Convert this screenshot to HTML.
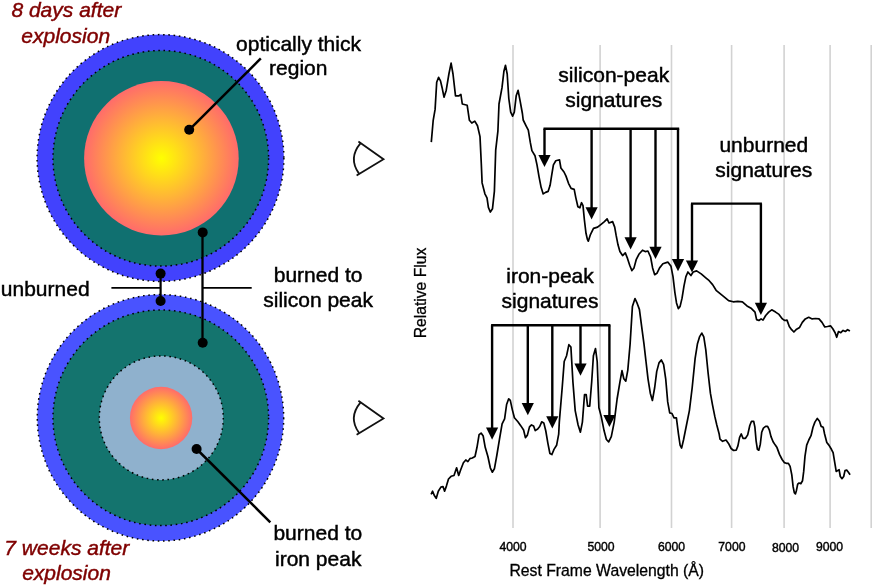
<!DOCTYPE html>
<html><head><meta charset="utf-8"><title>Supernova spectra</title>
<style>
html,body{margin:0;padding:0;background:#fff}
svg{display:block}
text{font-family:"Liberation Sans",sans-serif}
</style></head><body>
<svg width="874" height="588" viewBox="0 0 874 588">
<defs>
<radialGradient id="g"><stop offset="0" stop-color="#ffff00"/><stop offset="0.5" stop-color="#ffb636"/><stop offset="1" stop-color="#ff6b6b"/></radialGradient>
</defs>
<rect width="874" height="588" fill="#fff"/>
<g stroke="#d2d2d2" stroke-width="1.6"><line x1="513.0" y1="45" x2="513.0" y2="528"/><line x1="600.1" y1="45" x2="600.1" y2="528"/><line x1="671.5" y1="45" x2="671.5" y2="528"/><line x1="731.6" y1="45" x2="731.6" y2="528"/><line x1="784.1" y1="45" x2="784.1" y2="528"/><line x1="830.1" y1="45" x2="830.1" y2="528"/><line x1="871.2" y1="45" x2="871.2" y2="528"/></g>

<!-- top star -->
<g stroke="#000" stroke-width="1.5" stroke-dasharray="1.6 3.66">
<circle cx="160.5" cy="158.0" r="123.4" fill="#4242fd"/>
<circle cx="160.8" cy="158.3" r="107.8" fill="#107070"/>
</g>
<circle cx="161.4" cy="158.3" r="77.3" fill="url(#g)"/>
<!-- bottom star -->
<g stroke="#000" stroke-width="1.5" stroke-dasharray="1.6 3.66">
<circle cx="160.5" cy="417.8" r="123.2" fill="#4953ff"/>
<circle cx="160.8" cy="417.8" r="107.8" fill="#14746e"/>
<circle cx="161.3" cy="417.9" r="62" fill="#8fb1cd"/>
</g>
<circle cx="161.1" cy="418" r="31.2" fill="url(#g)"/>

<!-- pointers -->
<g stroke="#000" fill="none">
<line x1="189.2" y1="129.8" x2="260.8" y2="58.4" stroke-width="2.5"/>
<line x1="196.6" y1="449" x2="270.3" y2="522.3" stroke-width="2.5"/>
<line x1="160.6" y1="273.6" x2="160.6" y2="301" stroke-width="2.2"/>
<line x1="202.5" y1="232.4" x2="202.5" y2="342.7" stroke-width="2.3"/>
<line x1="111.4" y1="287.8" x2="160.6" y2="287.8" stroke-width="1.7"/>
<line x1="202.7" y1="287.8" x2="251.7" y2="287.8" stroke-width="1.7"/>
</g>
<g fill="#000">
<circle cx="189.2" cy="129.8" r="5"/><circle cx="196.6" cy="449" r="5"/>
<circle cx="160.6" cy="273.6" r="5"/><circle cx="160.6" cy="301" r="5"/>
<circle cx="202.7" cy="232.4" r="5"/><circle cx="202.7" cy="342.7" r="5"/>
</g>

<!-- eyes -->
<g stroke="#111" stroke-width="1.8" fill="none" stroke-linecap="butt"><g transform="translate(0,0)"><path d="M358.4 141.5 L383.5 159.2 L356.6 175.5"/><path d="M360.4 143.4 Q348 158.3 359 173.6"/></g><g transform="translate(0,259.2)"><path d="M358.4 141.5 L383.5 159.2 L356.6 175.5"/><path d="M360.4 143.4 Q348 158.3 359 173.6"/></g></g>

<!-- spectra -->
<g fill="none" stroke="#000" stroke-width="1.7" stroke-linejoin="round">
<polyline points="431.3,142.1 433.2,120.3 435.1,109.4 436.7,82.2 438.6,77.3 440.5,80.9 442.1,87.7 444.0,97.2 446.2,90.4 448.9,74.0 451.1,63.2 453.0,74.0 455.5,95.8 459.0,95.8 460.9,94.5 462.3,104.0 467.2,105.3 469.4,120.3 471.8,123.0 474.8,121.1 477.5,125.7 480.0,136.6 481.3,163.8 482.1,182.9 484.9,193.8 487.0,197.9 488.4,207.4 490.3,212.0 492.5,208.7 494.4,191.1 495.7,150.2 497.9,131.2 499.0,104.0 502.0,87.7 503.9,71.3 505.5,65.3 507.2,74.0 508.8,98.5 510.7,112.1 512.6,116.2 514.3,112.1 516.2,95.8 518.1,90.4 520.2,101.3 522.4,113.5 523.2,120.0 526.2,126.1 528.3,130.2 530.3,142.4 531.9,150.6 535.0,155.7 537.0,164.9 539.1,177.1 541.1,187.3 543.2,193.9 545.6,192.4 548.1,191.4 550.1,185.3 551.7,175.1 553.4,164.9 555.8,160.8 559.5,159.8 560.9,168.0 564.0,172.0 566.0,176.1 568.5,183.3 571.1,188.4 574.2,189.4 575.8,197.6 577.9,206.7 579.9,207.8 581.5,202.7 583.0,205.7 584.4,220.0 586.0,233.3 587.4,239.4 588.3,241.2 590.2,235.2 593.5,228.4 597.6,227.1 601.7,223.8 604.4,221.6 607.1,218.9 609.0,223.0 612.6,221.6 614.7,227.1 616.1,235.2 618.0,244.8 619.9,251.6 622.6,255.6 625.3,252.9 627.5,258.4 629.7,265.2 631.9,270.6 634.0,267.9 636.2,259.7 638.9,254.3 642.5,250.2 645.2,251.6 647.9,251.0 650.6,257.0 652.6,267.9 654.7,274.7 656.9,273.3 659.6,267.9 662.9,263.8 667.0,262.4 668.0,262.2 671.0,266.3 673.0,276.6 674.9,292.6 676.5,302.9 678.3,308.6 680.1,306.4 682.0,298.4 684.0,285.8 685.9,276.6 687.9,272.0 690.9,275.5 693.2,272.0 696.6,270.9 701.2,273.9 705.8,277.8 709.2,280.7 712.6,284.6 716.1,290.3 719.5,293.1 724.1,296.8 728.6,300.6 733.2,301.8 737.8,301.3 742.4,301.8 747.0,305.9 751.5,308.6 755.0,312.1 756.6,319.6 758.9,320.5 761.1,318.9 763.0,320.1 765.7,315.5 768.7,312.1 771.7,309.8 775.6,312.1 779.0,314.4 782.4,318.9 784.7,320.5 787.0,320.1 789.3,326.5 791.6,329.7 793.9,332.0 796.6,329.2 799.6,327.4 802.3,322.4 805.3,318.9 808.7,317.3 812.2,318.9 815.6,318.5 819.0,318.9 822.0,322.4 824.8,327.0 827.5,326.5 830.5,325.8 832.8,328.8 835.1,332.7 836.7,337.3 838.5,331.5 840.8,332.7 843.1,330.4 845.4,331.5 847.6,329.7 849.9,331.1"/>
<polyline points="431.1,494.3 432.6,491.2 434.2,495.3 436.2,498.4 438.3,491.2 440.9,487.1 443.0,486.5 444.6,491.2 446.4,486.1 448.5,479.0 451.1,476.3 454.0,475.5 456.6,467.8 458.7,475.5 460.7,469.8 463.4,462.7 465.8,460.0 467.9,461.6 469.9,458.6 472.3,458.0 475.0,456.5 477.0,447.3 479.1,434.7 481.1,433.1 483.2,436.1 485.2,447.3 487.9,456.5 490.3,467.8 492.3,472.2 494.4,468.8 496.8,455.5 499.5,439.2 502.1,423.9 504.6,418.8 506.6,404.5 508.7,398.8 510.3,400.4 512.3,409.6 514.4,417.8 517.9,421.8 520.9,425.9 523.6,430.0 525.4,437.6 527.4,435.1 529.5,426.9 531.5,424.9 533.6,425.9 535.2,430.6 537.7,429.0 539.7,426.5 541.7,421.8 543.8,422.9 545.8,431.0 547.9,443.3 549.9,453.5 551.9,454.5 554.0,449.4 556.6,445.3 558.7,434.1 559.3,422.1 562.2,387.5 564.2,361.5 566.6,355.7 568.9,344.7 570.9,347.0 572.9,381.7 575.2,410.6 578.1,425.0 580.4,432.2 582.4,422.1 584.5,394.7 586.2,394.7 587.6,406.2 589.7,406.2 591.7,381.7 593.4,355.7 595.5,348.5 597.2,361.5 598.9,407.7 601.2,416.4 604.1,430.8 606.4,439.5 608.7,441.8 611.3,436.6 614.2,422.1 617.1,399.0 620.0,381.7 622.0,370.7 623.8,378.8 625.8,381.1 627.8,370.1 630.1,344.1 632.4,306.6 635.0,298.5 637.3,303.7 639.4,309.4 641.7,326.8 644.0,344.1 646.0,361.5 648.0,378.8 650.3,393.2 652.4,400.5 654.7,387.5 656.7,371.6 659.0,362.9 661.3,360.0 663.6,364.3 665.7,378.8 667.7,401.9 669.7,412.9 672.0,413.5 674.0,417.8 676.4,417.8 678.4,433.7 680.1,445.2 681.6,448.1 683.6,439.5 686.5,425.0 689.4,410.6 692.2,387.5 695.1,358.6 697.4,344.1 699.5,336.9 701.8,333.1 703.8,336.9 705.8,349.9 708.1,373.0 710.4,393.2 712.5,404.8 714.8,416.4 716.8,425.0 719.1,433.7 720.0,439.1 722.6,441.3 726.0,440.0 728.5,443.4 731.1,448.5 733.6,450.5 736.2,450.2 737.9,445.9 739.6,437.4 741.3,434.0 743.0,438.3 745.5,438.3 747.7,434.9 749.8,425.5 751.5,421.3 753.7,421.3 754.9,427.2 756.1,440.8 757.4,449.3 758.8,450.2 760.3,444.2 761.7,432.3 763.4,428.1 765.6,426.4 767.6,426.4 769.3,429.8 771.0,436.6 773.1,441.7 775.3,445.1 777.0,447.6 779.5,454.4 782.1,459.5 784.3,462.6 786.3,463.3 788.4,463.3 790.1,466.3 791.8,474.8 793.1,486.7 794.3,492.7 795.4,493.9 796.5,490.2 797.7,484.2 799.1,483.0 800.8,483.7 802.5,480.8 803.7,471.4 805.0,456.1 806.7,445.1 808.8,440.0 811.0,435.7 813.0,427.2 814.9,422.1 817.3,418.4 819.5,421.3 821.2,426.4 823.2,427.2 824.6,434.0 826.8,442.5 828.9,445.1 831.4,449.3 833.1,452.7 834.8,462.9 836.2,471.4 837.7,470.6 839.1,469.7 840.3,476.5 842.0,478.6 843.7,476.5 845.0,470.6 846.7,470.1 848.4,472.3 850.1,474.8"/>
</g>

<!-- arrows -->
<g stroke="#000" stroke-width="2.4" fill="#000">
<line x1="543.5" y1="128.7" x2="679.2" y2="128.7"/><line x1="544.5" y1="128.7" x2="544.5" y2="155.9"/><polygon stroke="none" points="538.4,154.9 550.6,154.9 544.5,167.1"/><line x1="591.6" y1="128.7" x2="591.6" y2="208.20000000000002"/><polygon stroke="none" points="585.5,207.20000000000002 597.7,207.20000000000002 591.6,219.4"/><line x1="630.6" y1="128.7" x2="630.6" y2="238.20000000000002"/><polygon stroke="none" points="624.5,237.20000000000002 636.7,237.20000000000002 630.6,249.4"/><line x1="655.5" y1="128.7" x2="655.5" y2="247.8"/><polygon stroke="none" points="649.4,246.8 661.6,246.8 655.5,259.0"/><line x1="678" y1="128.7" x2="678" y2="260.1"/><polygon stroke="none" points="671.9,259.1 684.1,259.1 678,271.3"/>
<line x1="691" y1="203.6" x2="761.9" y2="203.6"/><line x1="692" y1="203.6" x2="692" y2="261.40000000000003"/><polygon stroke="none" points="685.9,260.40000000000003 698.1,260.40000000000003 692,272.6"/><line x1="760.9" y1="203.6" x2="760.9" y2="303.7"/><polygon stroke="none" points="754.8,302.7 767.0,302.7 760.9,314.9"/>
<line x1="491.1" y1="325.2" x2="610.4" y2="325.2"/><line x1="492.1" y1="325.2" x2="492.1" y2="428.5"/><polygon stroke="none" points="486.0,427.5 498.20000000000005,427.5 492.1,439.7"/><line x1="527.8" y1="325.2" x2="527.8" y2="404.0"/><polygon stroke="none" points="521.6999999999999,403.0 533.9,403.0 527.8,415.2"/><line x1="552.3" y1="325.2" x2="552.3" y2="417.3"/><polygon stroke="none" points="546.1999999999999,416.3 558.4,416.3 552.3,428.5"/><line x1="580.5" y1="325.2" x2="580.5" y2="364.6"/><polygon stroke="none" points="574.4,363.6 586.6,363.6 580.5,375.8"/><line x1="609.4" y1="325.2" x2="609.4" y2="415.90000000000003"/><polygon stroke="none" points="603.3,414.90000000000003 615.5,414.90000000000003 609.4,427.1"/>
</g>

<!-- labels -->
<g font-size="21" fill="#000" stroke="#000" stroke-width="0.45" text-anchor="middle">
<text x="298.5" y="50.5">optically thick</text><text x="298.3" y="75.3">region</text>
<text x="45.2" y="295.8">unburned</text>
<text x="318.1" y="281.8">burned to</text><text x="318.1" y="307">silicon peak</text>
<text x="317.8" y="540.3">burned to</text><text x="318.2" y="566.1">iron peak</text>
<text x="613.7" y="81.7">silicon-peak</text><text x="613.7" y="106.5">signatures</text>
<text x="763.8" y="152.3">unburned</text><text x="763.8" y="176.5">signatures</text>
<text x="550" y="283.3">iron-peak</text><text x="550" y="307.8">signatures</text>
</g>
<g font-size="21" fill="#7f0000" stroke="#7f0000" stroke-width="0.45" font-style="italic" text-anchor="middle">
<text x="66.3" y="17">8 days after</text><text x="65.7" y="42.6">explosion</text>
<text x="66.8" y="555.2">7 weeks after</text><text x="66.5" y="580.4">explosion</text>
</g>
<g font-size="12.2" fill="#000" stroke="#000" stroke-width="0.4" text-anchor="middle"><text x="513" y="550.6">4000</text><text x="601" y="550.6">5000</text><text x="671.5" y="550.6">6000</text><text x="731.9" y="550.6">7000</text><text x="785.5" y="551.5">8000</text><text x="829.5" y="550.6">9000</text></g>
<text x="606.8" y="575.6" font-size="15.76" stroke="#000" stroke-width="0.3" text-anchor="middle">Rest Frame Wavelength (Å)</text>
<text transform="translate(425.8,293) rotate(-90)" font-size="15.7" stroke="#000" stroke-width="0.3" text-anchor="middle">Relative Flux</text>
</svg>
</body></html>
